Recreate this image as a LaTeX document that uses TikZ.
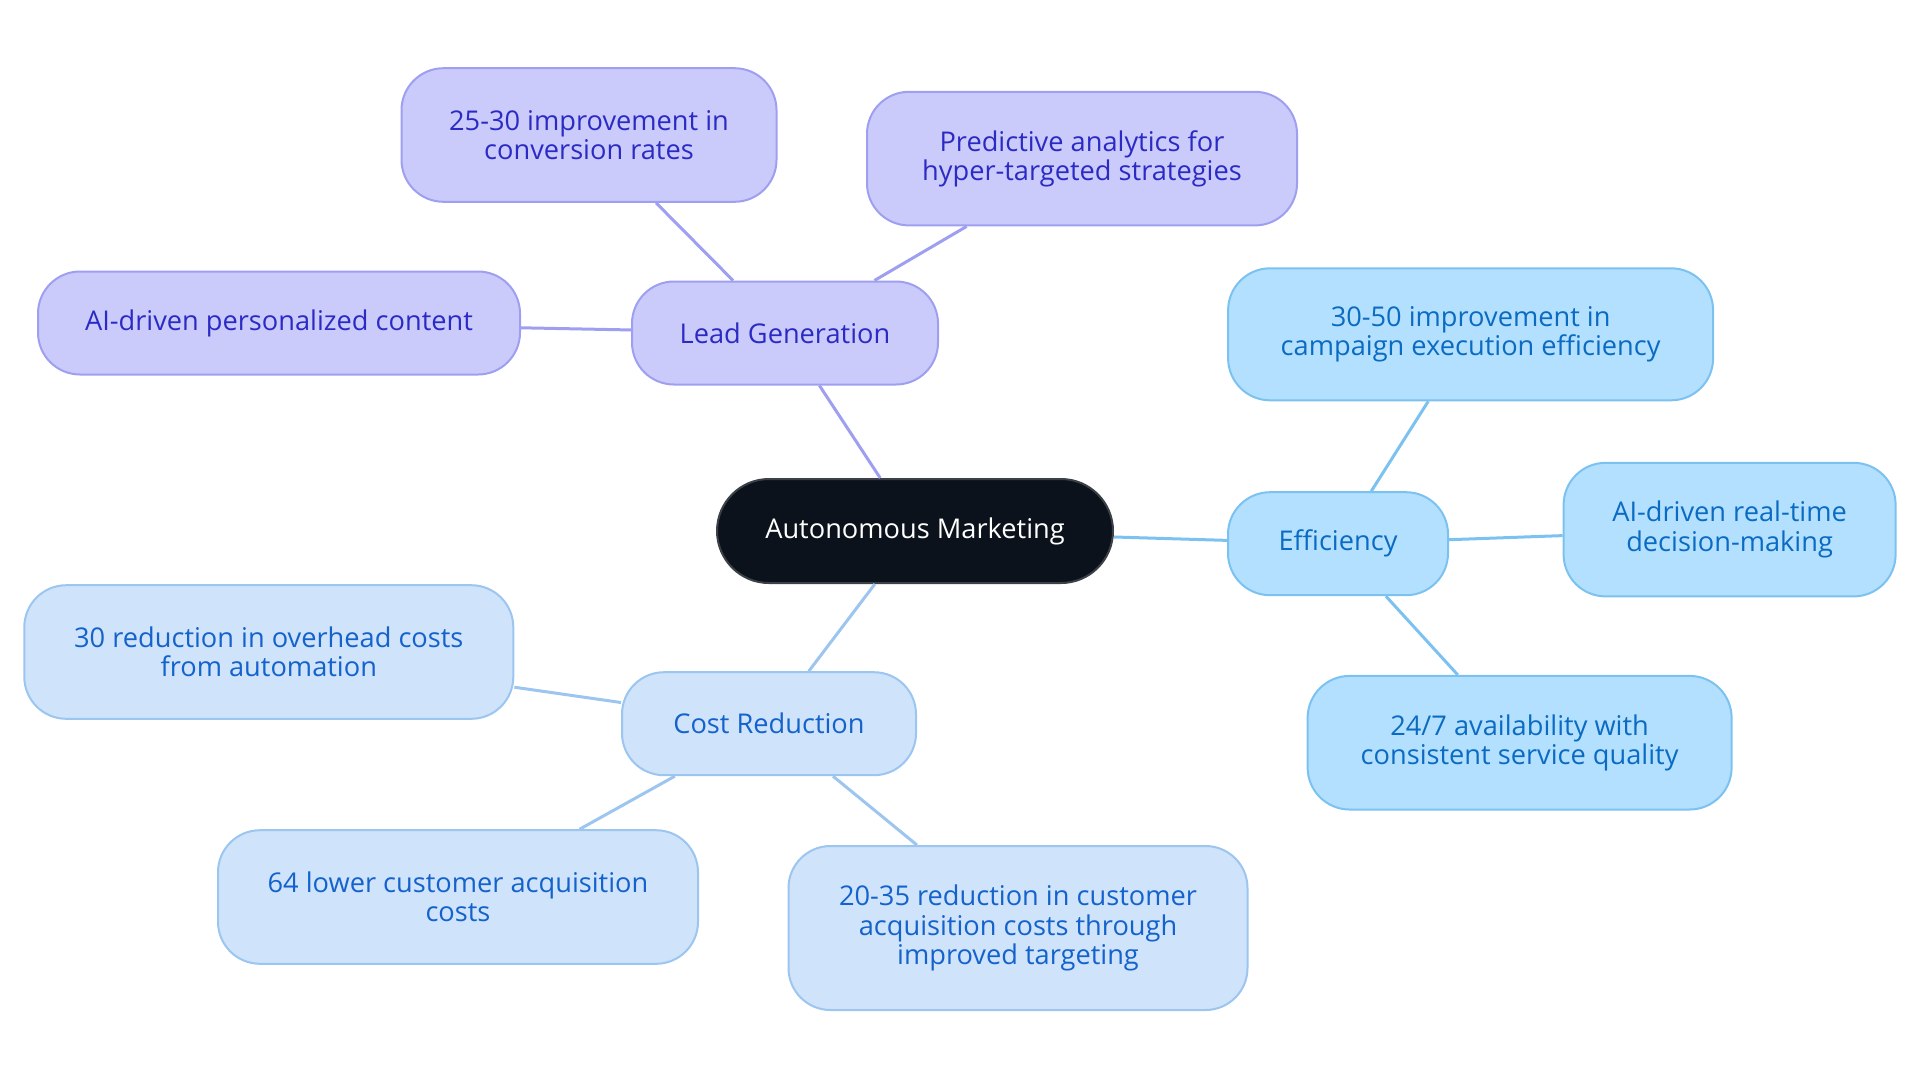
\documentclass[tikz,border=0pt]{standalone}
\usepackage{fontspec}
\setmainfont{Open Sans}
\definecolor{leadfill}{HTML}{CACBFB}
\definecolor{leaddraw}{HTML}{9E9FF0}
\definecolor{leadtext}{HTML}{2B2BC4}
\definecolor{efffill}{HTML}{B3E0FE}
\definecolor{effdraw}{HTML}{7CC2F0}
\definecolor{efftext}{HTML}{0B6BC2}
\definecolor{costfill}{HTML}{CFE3FA}
\definecolor{costdraw}{HTML}{9CC5F0}
\definecolor{costtext}{HTML}{1462CC}
\definecolor{rootfill}{HTML}{0C121B}
\definecolor{rootdraw}{HTML}{3C4148}
\begin{document}
\begin{tikzpicture}[x=0.5pt,y=-0.5pt,
  base/.style={draw, line width=1pt, rounded corners=21pt, align=center, inner sep=0pt,
    font=\fontsize{13.6}{14.7}\selectfont},
  root/.style={base, fill=rootfill, draw=rootdraw, text=white, rounded corners=26pt},
  leadbox/.style={base, fill=leadfill, draw=leaddraw, text=leadtext},
  effbox/.style={base, fill=efffill, draw=effdraw, text=efftext},
  costbox/.style={base, fill=costfill, draw=costdraw, text=costtext},
  leadline/.style={draw=leaddraw, line width=1.5pt},
  effline/.style={draw=effdraw, line width=1.5pt},
  costline/.style={draw=costdraw, line width=1.5pt},
  sz/.style 2 args={minimum width=#1pt, minimum height=#2pt}
]
\useasboundingbox (0,0) rectangle (1920,1083);
\node[root, sz={198}{52}] (am) at (915,531) {Autonomous Marketing};
% Lead generation
\node[leadbox, sz={153}{51.5}] (lg) at (785,333) {Lead Generation};
\node[leadbox, sz={187.5}{66.8}] (lg1) at (589,135) {25-30 improvement in\\conversion rates};
\node[leadbox, sz={215}{66.8}] (lg2) at (1082,158.6) {Predictive analytics for\\hyper-targeted strategies};
\node[leadbox, sz={241}{51.5}] (lg3) at (279,323) {AI-driven personalized content};
% Efficiency
\node[effbox, sz={110}{51.5}] (ef) at (1338,543.7) {Efficiency};
\node[effbox, sz={242.5}{66}] (ef1) at (1470.6,334.3) {30-50 improvement in\\campaign execution efficiency};
\node[effbox, sz={166}{66.8}] (ef2) at (1729.6,529.6) {AI-driven real-time\\decision-making};
\node[effbox, sz={212}{66.8}] (ef3) at (1519.6,742.7) {24/7 availability with\\consistent service quality};
% Cost reduction
\node[costbox, sz={147}{51.5}] (cr) at (769,723.7) {Cost Reduction};
\node[costbox, sz={244.5}{66.8}] (cr1) at (268.8,652) {30 reduction in overhead costs\\from automation};
\node[costbox, sz={240}{66.8}] (cr2) at (458,897) {64 lower customer acquisition\\costs};
\node[costbox, sz={229.5}{82}] (cr3) at (1018,928) {20-35 reduction in customer\\acquisition costs through\\improved targeting};
% connectors
\draw[leadline] (am) -- (lg);
\draw[leadline] (lg) -- (lg1);
\draw[leadline] (lg) -- (lg2);
\draw[leadline] (lg) -- (lg3);
\draw[effline] (am) -- (ef);
\draw[effline] (ef) -- (ef1);
\draw[effline] (ef) -- (ef2);
\draw[effline] (ef) -- (ef3);
\draw[costline] (am) -- (cr);
\draw[costline] (cr) -- (cr1);
\draw[costline] (cr) -- (cr2);
\draw[costline] (cr) -- (cr3);
\end{tikzpicture}
\end{document}
